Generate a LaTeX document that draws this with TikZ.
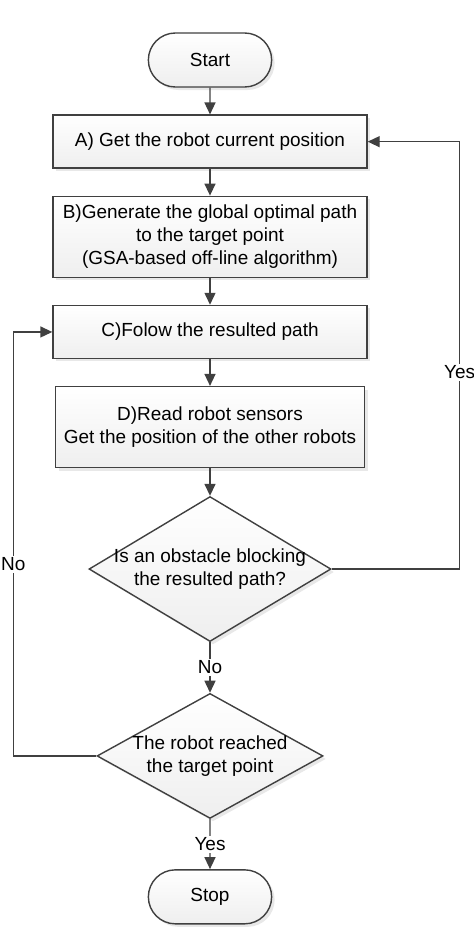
\documentclass[tikz,border=0pt]{standalone}
\usepackage{fontspec}
\setmainfont{Liberation Sans}
\usetikzlibrary{shapes.geometric, shapes.misc, positioning, arrows.meta, shadows}
\tikzset{
    >={Triangle[length=2.4mm, width=2.2mm]}, % small filled arrow heads
    every node/.style={font=\fontsize{10.8pt}{13pt}\selectfont}, % Arial-like text everywhere
    flowline/.style={draw=black!75, line width=0.8pt}, % the connectors and outlines
    boxshade/.style={flowline, top color=white, bottom color=gray!13, drop shadow={opacity=0.18, shadow xshift=0.6mm, shadow yshift=-0.6mm}},
    terminal/.style={rounded rectangle, boxshade, minimum width=2.7cm, minimum height=1.08cm},
    process/.style={rectangle, boxshade, align=center, minimum width=6.28cm, minimum height=1.06cm},
    decision/.style={diamond, boxshade, inner sep=0pt}, % text is put in as a centre label
    answer/.style={fill=white, inner sep=1pt}, % Yes / No on the lines
    node distance=0.535cm, % gap between the boxes
}
\begin{document}
\begin{tikzpicture}
    \useasboundingbox (0,0) rectangle (9.48,-18.96);
    \node[terminal] (start) at (4.2,-1.2) {Start};
    \node[process, below=of start] (a) {A) Get the robot current position};
    \node[process, below=of a, minimum height=1.62cm] (b) {B)Generate the global optimal path\\to the target point\\(GSA-based off-line algorithm)};
    \node[process, below=of b] (c) {C)Folow the resulted path};
    \node[process, below=of c, minimum width=6.18cm, minimum height=1.62cm] (d) {D)Read robot sensors\\Get the position of the other robots};
    \node[decision, below=0.55cm of d, minimum width=4.84cm, minimum height=2.9cm,
        label={[align=center]center:Is an obstacle blocking\\the resulted path?}] (obst) {};
    \node[decision, below=1.01cm of obst, minimum width=4.52cm, minimum height=2.5cm,
        label={[align=center]center:The robot reached\\the target point}] (reach) {};
    \node[terminal, below=1.0cm of reach] (stop) {Stop};

    \draw[flowline, ->] (start) -- (a);
    \draw[flowline, ->] (a) -- (b);
    \draw[flowline, ->] (b) -- (c);
    \draw[flowline, ->] (c) -- (d);
    \draw[flowline, ->] (d) -- (obst);
    \draw[flowline, ->] (obst) -- node[answer] {No} (reach);
    \draw[flowline, ->] (reach) -- node[answer] {Yes} (stop);
    % loops back
    \draw[flowline, ->] (obst.east) -| node[answer, pos=0.73] {Yes} ([xshift=1.84cm]a.east) -- (a.east);
    \draw[flowline, ->] (reach.west) -| node[answer, pos=0.726] {No} ([xshift=-0.78cm]c.west) -- (c.west);
\end{tikzpicture}
\end{document}
